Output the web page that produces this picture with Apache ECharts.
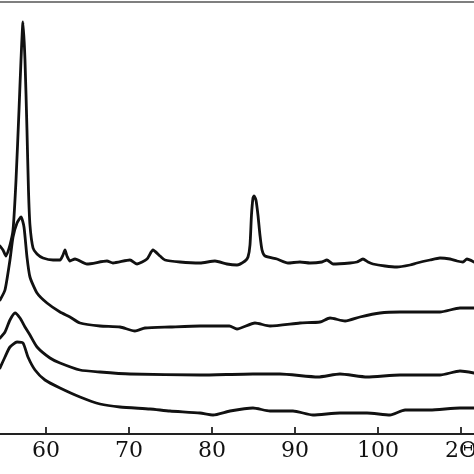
<!DOCTYPE html>
<html>
<head>
<meta charset="utf-8">
<script src="https://cdn.jsdelivr.net/npm/echarts@6/dist/echarts.min.js"></script>
<style>html,body{margin:0;padding:0;background:#fff}#c{width:474px;height:474px}</style>
</head>
<body>
<div id="c"></div>
<script>
// 2θ (degrees) vs intensity (arbitrary units, curves offset vertically)
var tickValues = [60, 70, 80, 90, 100, 110];
var tickLabels = ['60', '70', '80', '90', '100', '2Θ'];

var curveA = [
  [54.45,188],[54.81,184],[55.17,178],[55.65,189],[56.02,204],[56.38,254],[56.74,324],[56.98,374],
  [57.22,412],[57.46,374],[57.70,304],[57.88,244],[58.06,209],[58.43,186],[58.91,180],[59.63,176],
  [60.84,174],[61.68,174],[62.04,179],[62.28,184],[62.52,178],[62.88,173],[63.49,175],[64.93,170],
  [67.34,173],[68.06,171],[70.11,174],[70.96,170],[72.16,175],[72.88,184],[73.73,178],[74.33,174],
  [76.14,172],[78.55,171],[80.35,173],[81.80,170],[83.00,169],[83.97,173],[84.33,177],[84.57,189],
  [84.75,219],[84.93,236],[85.05,238],[85.29,234],[85.53,219],[85.77,199],[86.02,184],[86.38,178],
  [87.82,175],[89.15,171],[90.59,172],[91.80,171],[93.24,172],[93.84,174],[94.57,170],[96.62,171],
  [97.46,172],[98.18,175],[98.79,172],[99.39,170],[100.84,168],[102.28,167],[103.85,169],[104.69,171],
  [106.26,174],[107.46,176],[108.67,175],[109.51,173],[110.23,172],[110.71,175],[111.56,172]
];
var curveB = [
  [54.45,134],[55.05,144],[55.65,174],[56.02,197],[56.50,211],[56.98,217],[57.34,207],[57.70,177],
  [58.06,157],[58.91,141],[60.11,131],[61.68,122],[62.88,117],[64.09,111],[66.50,108],[68.91,107],
  [70.71,103],[71.92,106],[74.93,107],[78.55,108],[82.09,108],[83.00,105],[85.17,111],[86.98,108],
  [90.59,111],[93.00,112],[94.21,116],[96.02,113],[97.82,117],[100.23,121],[102.64,122],[107.46,122],
  [109.87,126],[111.56,126]
];
var curveC = [
  [54.45,96],[55.05,102],[55.65,114],[56.26,121],[56.86,116],[57.46,107],[58.06,99],[58.91,87],
  [60.47,76],[61.68,71],[64.09,64],[66.50,62],[70.11,60],[78.55,59],[84.93,60],[88.18,60],
  [92.76,57],[95.41,60],[98.67,57],[102.64,59],[107.46,59],[109.87,63],[111.56,61]
];
var curveD = [
  [54.45,66],[55.05,77],[55.65,87],[56.50,92],[57.22,91],[57.82,77],[58.67,64],[59.87,54],
  [61.68,46],[64.09,37],[66.50,30],[68.91,27],[72.52,25],[74.93,23],[78.55,21],[80.12,19],
  [82.16,23],[84.93,26],[86.98,23],[89.75,23],[92.16,19],[95.41,21],[98.67,21],[101.44,19],
  [103.25,24],[106.26,24],[109.87,26],[111.56,26]
];

var chart = echarts.init(document.getElementById('c'), null, {renderer: 'canvas'});
function mk(d) {
  return {type: 'line', data: d, showSymbol: false, smooth: 0.2,
    lineStyle: {color: '#111', width: 2.8, join: 'round', cap: 'round'}, silent: true};
}
chart.setOption({
  animation: false,
  backgroundColor: '#fff',
  grid: {left: 0, right: 0, top: 2, bottom: 40, containLabel: false, outerBoundsMode: 'none'},
  xAxis: [{
    type: 'value', min: 54.45, max: 111.56, position: 'bottom',
    axisLine: {show: true, lineStyle: {color: '#222', width: 1.8}},
    axisTick: {show: true, inside: true, length: 7, customValues: tickValues, lineStyle: {color: '#222', width: 1.8}},
    axisLabel: {
      customValues: tickValues, margin: 6, hideOverlap: false,
      fontFamily: 'DejaVu Serif', fontSize: 22, color: '#111',
      formatter: function (v) {
        var i = tickValues.indexOf(Math.round(v));
        if (i === tickLabels.length - 1) return '{t|' + tickLabels[i] + '}';
        return i >= 0 ? tickLabels[i] : '';
      },
      rich: {t: {fontFamily: 'DejaVu Serif', fontSize: 22, color: '#111', padding: [0, 0, 0, 0]}}
    },
    splitLine: {show: false}
  }, {
    type: 'value', min: 54.45, max: 111.56, position: 'top',
    axisLine: {show: true, lineStyle: {color: '#555', width: 1.6}},
    axisTick: {show: false}, axisLabel: {show: false}, splitLine: {show: false}
  }],
  yAxis: {type: 'value', min: 0, max: 432, show: false, splitLine: {show: false}},
  series: [mk(curveA), mk(curveB), mk(curveC), mk(curveD)]
});
</script>
</body>
</html>
